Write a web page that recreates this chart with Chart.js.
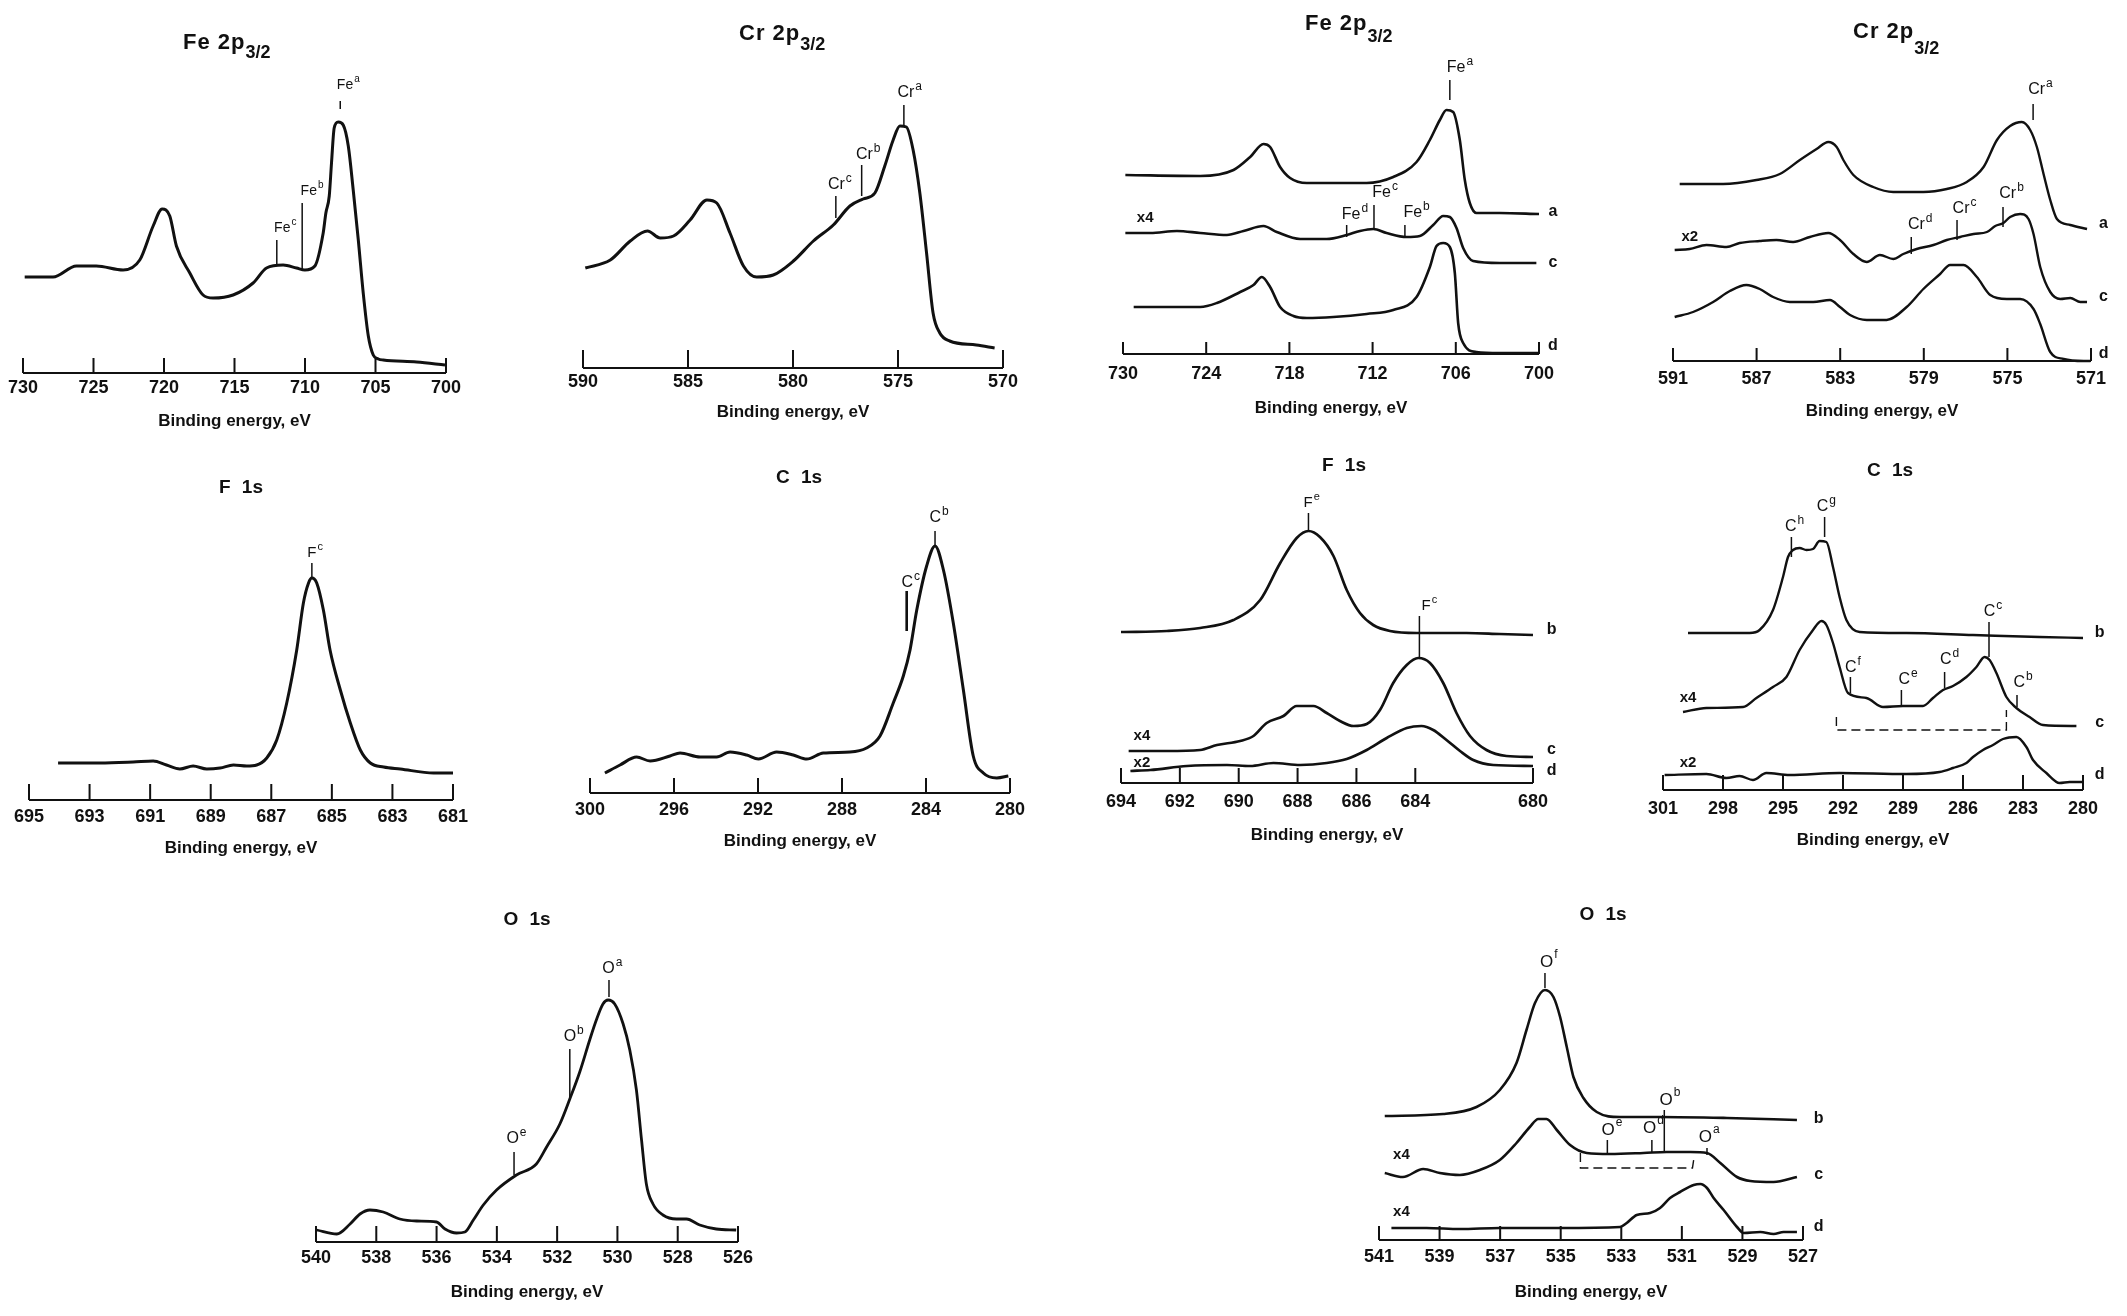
<!DOCTYPE html>
<html>
<head>
<meta charset="utf-8">
<title>XPS spectra</title>
<script src="https://cdn.jsdelivr.net/npm/chart.js@4.4.1/dist/chart.umd.min.js"></script>
<style>
  html, body { margin: 0; padding: 0; background: #fff; }
  body { width: 2127px; height: 1316px; position: relative; overflow: hidden; color: #111;
         font-family: "Liberation Sans", Arial, sans-serif; }
  .panel { position: absolute; }
  .panel canvas { display: block; }
  .ttl { position: absolute; font-weight: bold; line-height: 1; white-space: nowrap; }
  .ttl.big { font-size: 22px; letter-spacing: 1px; }
  .ttl.big sub { font-size: 18px; line-height: 1; letter-spacing: 0; }
  .ttl.small { font-size: 19px; word-spacing: 6px; transform: translateX(-50%); }
</style>
</head>
<body>
<script>
// ---- spectra (binding energy in eV, intensity in arb. units) ----

// Fe 2p3/2, single spectrum
const feSingleEnergy = [729.88, 727.87, 726.21, 724.80, 722.90, 721.72, 720.77, 720.13, 719.59, 719.12, 718.17, 717.23, 716.52, 715.10, 713.68, 712.73, 711.55, 710.60, 710.01, 709.30, 708.71, 708.52, 708.28, 708.12, 707.93, 707.64, 707.29, 706.93, 706.58, 706.22, 705.87, 705.51, 705.16, 704.80, 704.45, 702.08, 700.07];
const feSingleCounts = [96, 96, 107, 107, 103, 113, 147, 164, 157, 127, 100, 78, 75, 78, 90, 105, 108, 105, 103, 107, 140, 160, 177, 210, 245, 251, 248, 227, 183, 133, 80, 37, 18, 14, 13, 11, 8];

// Cr 2p3/2, single spectrum
const crSingleEnergy = [589.89, 588.70, 587.75, 586.93, 586.32, 585.69, 584.90, 584.10, 583.63, 583.00, 582.36, 581.73, 580.94, 579.98, 579.03, 578.08, 577.29, 576.66, 576.10, 575.63, 575.23, 574.91, 574.60, 574.28, 573.96, 573.64, 573.33, 573.01, 572.54, 571.27, 570.40];
const crSingleCounts = [100, 108, 127, 137, 130, 132, 148, 168, 165, 135, 102, 91, 93, 107, 127, 143, 162, 169, 175, 202, 228, 242, 241, 218, 175, 115, 55, 35, 27, 23, 20];

// Fe 2p3/2, samples a, c, d
const feEnergyA = [729.83, 724.43, 722.03, 720.83, 719.87, 719.39, 718.67, 717.95, 716.75, 714.83, 712.43, 710.51, 708.83, 707.87, 707.15, 706.67, 706.19, 705.71, 705.35, 704.99, 704.51, 702.83, 700.0];
const feCountsA = [179, 178, 184, 197, 210, 207, 187, 176, 171, 171, 171, 177, 192, 214, 234, 244, 242, 214, 174, 151, 141, 141, 140];
const feEnergyC = [729.83, 728.03, 726.11, 724.43, 722.51, 721.31, 719.87, 718.91, 717.23, 715.31, 713.87, 712.91, 711.95, 710.99, 709.55, 708.59, 707.63, 706.91, 706.43, 705.95, 705.47, 704.75, 702.83, 700.19];
const feCountsC = [121, 121, 123, 121, 119, 123, 128, 122, 115, 115, 119, 123, 125, 121, 117, 118, 129, 138, 137, 126, 106, 93, 91, 91];
const feEnergyD = [729.23, 724.43, 723.23, 721.55, 720.59, 719.99, 719.39, 718.67, 717.71, 716.75, 714.83, 712.43, 710.51, 708.83, 707.87, 707.39, 706.91, 706.43, 706.07, 705.83, 705.47, 704.51, 702.83, 700.07];
const feCountsD = [47, 47, 51, 62, 69, 77, 67, 47, 38, 36, 37, 40, 44, 57, 87, 108, 111, 107, 81, 31, 11, 2, 1, 1];

// Cr 2p3/2, samples a, c, d
const crEnergyA = [590.68, 588.60, 587.01, 585.89, 584.93, 584.13, 583.57, 583.17, 582.85, 582.37, 581.42, 580.46, 579.02, 577.90, 576.94, 576.14, 575.50, 574.87, 574.31, 573.91, 573.59, 573.27, 572.95, 572.63, 571.99, 571.19];
const crCountsA = [177, 177, 181, 187, 201, 212, 219, 214, 201, 186, 174, 169, 169, 172, 179, 194, 221, 235, 239, 231, 214, 187, 161, 142, 136, 132];
const crEnergyC = [590.92, 590.20, 589.40, 588.44, 587.81, 586.85, 586.05, 585.25, 584.45, 583.57, 583.01, 582.37, 581.73, 581.10, 580.46, 579.98, 579.34, 578.54, 577.90, 577.26, 576.62, 575.98, 575.58, 575.19, 574.87, 574.39, 573.99, 573.75, 573.43, 572.95, 572.47, 571.99, 571.51, 571.19];
const crCountsC = [111, 112, 116, 114, 118, 120, 121, 119, 124, 128, 121, 107, 99, 106, 102, 107, 112, 116, 121, 124, 127, 129, 135, 138, 144, 147, 142, 127, 94, 69, 62, 63, 59, 59];
const crEnergyD = [590.92, 590.04, 589.08, 588.28, 587.49, 586.85, 586.21, 585.41, 584.29, 583.49, 583.01, 582.53, 581.73, 580.78, 579.82, 579.02, 578.22, 577.74, 577.10, 576.46, 575.82, 575.03, 574.39, 573.75, 573.43, 572.95, 572.31, 571.35, 571.03];
const crCountsD = [44, 49, 59, 70, 76, 72, 64, 59, 59, 61, 54, 46, 41, 41, 54, 72, 87, 96, 96, 84, 66, 62, 62, 52, 37, 9, 2, 0, 0];

// F 1s, single spectrum
const fSingleEnergy = [694.04, 692.66, 691.56, 690.90, 690.46, 690.02, 689.58, 689.13, 688.69, 688.25, 687.81, 687.48, 687.15, 686.82, 686.49, 686.16, 685.94, 685.77, 685.66, 685.50, 685.28, 685.06, 684.72, 684.39, 684.06, 683.73, 683.29, 682.74, 681.64, 681.0];
const fSingleCounts = [37, 37, 38, 39, 35, 31, 34, 31, 32, 35, 34, 35, 42, 60, 97, 150, 197, 217, 222, 217, 190, 150, 110, 77, 50, 37, 33, 31, 27, 27];

// C 1s, single spectrum
const cSingleEnergy = [299.29, 298.57, 297.78, 297.14, 296.19, 295.71, 294.76, 293.97, 293.33, 292.54, 291.98, 291.11, 290.32, 289.68, 288.89, 287.62, 286.83, 286.19, 285.56, 285.08, 284.76, 284.44, 283.97, 283.57, 283.17, 282.70, 282.22, 281.75, 281.27, 280.63, 280.08];
const cSingleCounts = [20, 28, 36, 32, 37, 40, 36, 36, 41, 38, 34, 41, 38, 34, 40, 41, 45, 57, 90, 117, 143, 183, 227, 247, 223, 170, 103, 37, 20, 15, 17];

// F 1s, samples b, c, d
const fEnergyB = [694.0, 692.44, 691.31, 690.18, 689.27, 688.59, 688.03, 687.63, 687.24, 686.78, 686.33, 685.88, 685.43, 684.86, 683.95, 682.26, 681.13, 680.0];
const fCountsB = [151, 152, 155, 163, 183, 220, 245, 252, 246, 227, 193, 170, 158, 152, 150, 150, 149, 148];
const fEnergyC = [693.74, 692.44, 691.31, 690.74, 689.95, 689.50, 689.05, 688.48, 688.03, 687.46, 687.01, 686.56, 686.10, 685.65, 685.20, 684.75, 684.29, 683.90, 683.50, 683.05, 682.60, 682.14, 681.58, 680.90, 680.0];
const fCountsC = [32, 32, 33, 38, 42, 47, 60, 67, 77, 77, 70, 62, 57, 59, 73, 100, 118, 125, 120, 100, 70, 47, 33, 27, 26];
const fEnergyD = [693.68, 693.0, 691.76, 690.40, 689.61, 688.82, 687.91, 687.01, 686.33, 685.65, 684.97, 684.29, 683.79, 683.39, 682.94, 682.48, 682.03, 681.35, 680.0];
const fCountsD = [12, 13, 17, 18, 17, 20, 18, 20, 24, 33, 45, 55, 57, 53, 43, 32, 23, 18, 17];

// C 1s, samples b, c, d (+ background under c)
const cEnergyB = [299.75, 296.67, 296.17, 295.5, 295.0, 294.75, 294.5, 294.17, 293.83, 293.5, 293.17, 292.83, 292.5, 292.17, 291.83, 291.17, 288.83, 285.5, 282.17, 280.0];
const cCountsB = [157, 157, 160, 180, 213, 233, 240, 242, 240, 241, 249, 248, 223, 193, 170, 158, 157, 155, 153, 152];
const cEnergyC = [300.0, 298.83, 297.0, 296.33, 295.5, 294.83, 294.17, 293.5, 293.08, 292.83, 292.5, 292.17, 291.75, 290.83, 290.0, 289.0, 288.0, 287.5, 287.0, 286.5, 285.83, 285.33, 284.92, 284.67, 284.33, 283.83, 283.33, 282.67, 282.0, 280.33];
const cCountsC = [78, 82, 83, 92, 103, 113, 140, 160, 169, 165, 147, 123, 97, 92, 83, 84, 84, 92, 100, 104, 113, 123, 133, 130, 117, 93, 82, 73, 65, 64];
const cEnergyD = [300.92, 298.83, 297.83, 297.17, 296.5, 295.83, 294.67, 292.17, 288.83, 287.17, 286.5, 285.83, 285.5, 285.0, 284.5, 284.0, 283.33, 282.83, 282.5, 281.83, 281.17, 280.67, 280.0];
const cCountsD = [15, 16, 12, 14, 10, 17, 15, 17, 16, 18, 22, 27, 33, 40, 45, 51, 53, 43, 30, 17, 7, 8, 8];
const cBackgroundEnergy = [292.33, 292.33, 283.83, 283.83];
const cBackgroundCounts = [73, 60, 60, 80];

// O 1s, single spectrum
const oSingleEnergy = [539.98, 539.31, 538.87, 538.54, 538.21, 537.77, 537.22, 536.66, 536.0, 535.72, 535.34, 535.06, 534.78, 534.45, 534.01, 533.35, 532.69, 532.35, 531.91, 531.58, 531.25, 530.92, 530.70, 530.48, 530.31, 530.09, 529.81, 529.59, 529.37, 529.20, 529.04, 528.82, 528.49, 528.04, 527.71, 527.27, 526.72, 526.06];
const oSingleCounts = [12, 8, 18, 28, 32, 30, 23, 21, 20, 13, 9, 10, 22, 37, 52, 67, 78, 95, 118, 143, 170, 202, 222, 238, 242, 238, 218, 192, 152, 102, 58, 38, 27, 23, 23, 17, 13, 12];

// O 1s, samples b, c, d (+ background under c)
const oEnergyB = [540.81, 538.88, 537.78, 537.01, 536.46, 536.13, 535.85, 535.52, 535.24, 535.02, 534.80, 534.58, 534.25, 533.81, 533.04, 531.72, 529.51, 527.20];
const oCountsB = [124, 126, 133, 150, 177, 210, 237, 250, 243, 223, 193, 163, 142, 128, 123, 123, 122, 120];
const oEnergyC = [540.81, 540.21, 539.54, 538.99, 538.33, 537.67, 537.01, 536.46, 536.02, 535.74, 535.47, 535.13, 534.69, 534.14, 533.37, 532.27, 531.50, 530.72, 530.17, 529.73, 529.18, 528.74, 527.97, 527.20];
const oCountsC = [67, 63, 71, 67, 65, 70, 80, 97, 113, 121, 121, 110, 95, 87, 86, 87, 88, 88, 87, 77, 63, 59, 58, 63];
const oEnergyD = [540.59, 539.43, 538.33, 537.01, 535.02, 533.04, 532.82, 532.49, 532.05, 531.72, 531.39, 531.06, 530.61, 530.39, 530.17, 529.95, 529.62, 529.18, 528.96, 528.41, 527.97, 527.64, 527.20];
const oCountsD = [12, 12, 11, 12, 12, 13, 17, 25, 27, 32, 42, 48, 55, 56, 52, 42, 30, 13, 7, 8, 6, 8, 8];
const oBackgroundEnergy = [534.35, 534.35, 530.65, 530.6];
const oBackgroundCounts = [87, 72, 72, 82];

// tick labels of every energy axis
const feTicks = [730, 725, 720, 715, 710, 705, 700];
const crTicks = [590, 585, 580, 575, 570];
const feTicksMulti = [730, 724, 718, 712, 706, 700];
const crTicksMulti = [591, 587, 583, 579, 575, 571];
const fTicks = [695, 693, 691, 689, 687, 685, 683, 681];
const cTicks = [300, 296, 292, 288, 284, 280];
const fTicksMulti = [694, 692, 690, 688, 686, 684, 680];
const cTicksMulti = [301, 298, 295, 292, 289, 286, 283, 280];
const oTicks = [540, 538, 536, 534, 532, 530, 528, 526];
const oTicksMulti = [541, 539, 537, 535, 533, 531, 529, 527];

const FONT = '"Liberation Sans", Arial, sans-serif';
const INK = '#111';

function trace(energy, counts, width, dashed) {
    return {
        data: energy.map((e, i) => ({ x: e, y: counts[i] })),
        borderColor: INK,
        borderWidth: dashed ? 1.4 : width,
        borderDash: dashed ? [9, 5] : [],
        pointRadius: 0,
        tension: 0,
        cubicInterpolationMode: dashed ? 'default' : 'monotone',
        fill: false,
        clip: 8,
    };
}

// label like "Fe" with a superscript letter, centred on (cx, cy)
function supText(ctx, main, sup, cx, cy, size) {
    const supSize = Math.round(size * 0.72);
    ctx.font = `${size}px ${FONT}`;
    const w1 = ctx.measureText(main).width;
    ctx.font = `${supSize}px ${FONT}`;
    const w2 = ctx.measureText(sup).width;
    const x0 = cx - (w1 + w2 + 1) / 2;
    ctx.textAlign = 'left';
    ctx.textBaseline = 'middle';
    ctx.font = `${size}px ${FONT}`;
    ctx.fillText(main, x0, cy);
    ctx.font = `${supSize}px ${FONT}`;
    ctx.fillText(sup, x0 + w1 + 1, cy - size * 0.42);
}

// axis line with inward ticks, peak markers and trace names
function drawMarks(chart, p) {
    const { ctx, chartArea } = chart;
    const xs = chart.scales.x;
    const ys = chart.scales.y;
    const base = chartArea.bottom;
    ctx.save();
    ctx.strokeStyle = INK;
    ctx.fillStyle = INK;
    ctx.lineWidth = 2;
    ctx.beginPath();
    ctx.moveTo(xs.getPixelForValue(xs.max), base);
    ctx.lineTo(xs.getPixelForValue(xs.min), base);
    xs.ticks.forEach((t) => {
        const px = xs.getPixelForValue(t.value);
        ctx.moveTo(px, base);
        ctx.lineTo(px, base - p.tickLen);
    });
    ctx.stroke();

    (p.peaks || []).forEach((k) => {
        const px = xs.getPixelForValue(k.x);
        ctx.lineWidth = k.heavy ? 2.6 : 1.5;
        ctx.beginPath();
        ctx.moveTo(px, ys.getPixelForValue(k.t0));
        ctx.lineTo(px, ys.getPixelForValue(k.t1));
        ctx.stroke();
        supText(ctx, k.n, k.s, xs.getPixelForValue(k.tx), ys.getPixelForValue(k.ty), p.labelSize);
    });

    (p.notes || []).forEach((n) => {
        ctx.font = `bold ${n.size || 16}px ${FONT}`;
        ctx.textAlign = 'center';
        ctx.textBaseline = 'middle';
        ctx.fillText(n.t, xs.getPixelForValue(n.x), ys.getPixelForValue(n.y));
    });
    ctx.restore();
}

function makePanel(p) {
    const wrap = document.createElement('div');
    wrap.className = 'panel';
    const canvas = document.createElement('canvas');
    canvas.width = Math.round(p.right - p.left) + 80;
    canvas.height = 400;
    wrap.appendChild(canvas);
    document.body.appendChild(wrap);

    const chart = new Chart(canvas, {
        type: 'line',
        data: { datasets: p.traces },
        options: {
            responsive: false,
            maintainAspectRatio: false,
            animation: false,
            devicePixelRatio: 1,
            layout: { padding: { left: 40, right: 40, top: 20, bottom: 0 } },
            plugins: { legend: { display: false }, tooltip: { enabled: false } },
            scales: {
                x: {
                    type: 'linear',
                    reverse: true,
                    min: Math.min(...p.ticks),
                    max: Math.max(...p.ticks),
                    afterBuildTicks: (scale) => { scale.ticks = p.ticks.map((v) => ({ value: v })); },
                    grid: { display: false, drawTicks: false },
                    border: { display: false },
                    ticks: {
                        autoSkip: false, maxRotation: 0, padding: p.tickPad - 1, color: INK,
                        font: { family: FONT, size: 18, weight: 'bold' },
                    },
                    title: {
                        display: true, text: 'Binding energy, eV', color: INK,
                        font: { family: FONT, size: 17, weight: 'bold' },
                        padding: { top: p.titlePad, bottom: 0 },
                    },
                },
                y: { display: false, min: 0, max: 300 },
            },
        },
        plugins: [{ id: 'xpsMarks', afterDraw: (c) => drawMarks(c, p) }],
    });

    // one intensity unit = one pixel above the axis line
    chart.options.scales.y.max = chart.chartArea.bottom - chart.chartArea.top;
    chart.update('none');
    wrap.style.left = Math.round(p.left - chart.chartArea.left) + 'px';
    wrap.style.top = Math.round(p.base - chart.chartArea.bottom) + 'px';

    const t = document.createElement('div');
    t.className = 'ttl ' + p.title.cls;
    t.innerHTML = p.title.html;
    t.style.left = p.title.x + 'px';
    t.style.top = p.title.y + 'px';
    document.body.appendChild(t);
}

const panels = [
    {
        left: 23, right: 446, base: 373, tickLen: 15, tickPad: 5, titlePad: 9, labelSize: 14,
        ticks: feTicks,
        traces: [trace(feSingleEnergy, feSingleCounts, 3)],
        title: { cls: 'big', html: 'Fe 2p<sub style="vertical-align:-9px">3/2</sub>', x: 183, y: 31 },
        peaks: [
            { n: 'Fe', s: 'a', x: 707.5, t0: 264, t1: 272, tx: 706.93, ty: 288 },
            { n: 'Fe', s: 'b', x: 710.2, t0: 103, t1: 170, tx: 709.5, ty: 182 },
            { n: 'Fe', s: 'c', x: 712.0, t0: 109, t1: 133, tx: 711.4, ty: 145 },
        ],
    },
    {
        left: 583, right: 1003, base: 368, tickLen: 18, tickPad: 4, titlePad: 7, labelSize: 16,
        ticks: crTicks,
        traces: [trace(crSingleEnergy, crSingleCounts, 3)],
        title: { cls: 'big', html: 'Cr 2p<sub style="vertical-align:-10px">3/2</sub>', x: 739, y: 22 },
        peaks: [
            { n: 'Cr', s: 'a', x: 574.72, t0: 243, t1: 263, tx: 574.44, ty: 275 },
            { n: 'Cr', s: 'b', x: 576.73, t0: 172, t1: 203, tx: 576.42, ty: 213 },
            { n: 'Cr', s: 'c', x: 577.96, t0: 150, t1: 172, tx: 577.77, ty: 183 },
        ],
    },
    {
        left: 1123, right: 1539, base: 354, tickLen: 12, tickPad: 10, titlePad: 5, labelSize: 16,
        ticks: feTicksMulti,
        traces: [trace(feEnergyA, feCountsA, 2.6), trace(feEnergyC, feCountsC, 2.6), trace(feEnergyD, feCountsD, 2.6)],
        title: { cls: 'big', html: 'Fe 2p<sub style="vertical-align:-12px">3/2</sub>', x: 1305, y: 12 },
        peaks: [
            { n: 'Fe', s: 'a', x: 706.43, t0: 254, t1: 274, tx: 705.7, ty: 286 },
            { n: 'Fe', s: 'd', x: 713.87, t0: 117, t1: 129, tx: 713.27, ty: 139 },
            { n: 'Fe', s: 'c', x: 711.9, t0: 124, t1: 149, tx: 711.1, ty: 161 },
            { n: 'Fe', s: 'b', x: 709.67, t0: 117, t1: 129, tx: 708.83, ty: 141 },
        ],
        notes: [
            { t: 'a', x: 699.0, y: 142 }, { t: 'c', x: 699.0, y: 91 }, { t: 'd', x: 699.0, y: 8 },
            { t: 'x4', x: 728.4, y: 136, size: 15 },
        ],
    },
    {
        left: 1673, right: 2091, base: 361, tickLen: 13, tickPad: 8, titlePad: 5, labelSize: 16,
        ticks: crTicksMulti,
        traces: [trace(crEnergyA, crCountsA, 2.4), trace(crEnergyC, crCountsC, 2.4), trace(crEnergyD, crCountsD, 2.4)],
        title: { cls: 'big', html: 'Cr 2p<sub style="vertical-align:-16px">3/2</sub>', x: 1853, y: 20 },
        peaks: [
            { n: 'Cr', s: 'a', x: 573.77, t0: 241, t1: 257, tx: 573.42, ty: 271 },
            { n: 'Cr', s: 'b', x: 575.21, t0: 134, t1: 154, tx: 574.8, ty: 167 },
            { n: 'Cr', s: 'c', x: 577.41, t0: 121, t1: 141, tx: 577.05, ty: 152 },
            { n: 'Cr', s: 'd', x: 579.6, t0: 107, t1: 124, tx: 579.17, ty: 136 },
        ],
        notes: [
            { t: 'a', x: 570.4, y: 137 }, { t: 'c', x: 570.4, y: 64 }, { t: 'd', x: 570.4, y: 7 },
            { t: 'x2', x: 590.2, y: 124, size: 15 },
        ],
    },
    {
        left: 29, right: 453, base: 800, tickLen: 16, tickPad: 7, titlePad: 5, labelSize: 15,
        ticks: fTicks,
        traces: [trace(fSingleEnergy, fSingleCounts, 3)],
        title: { cls: 'small', html: 'F 1s', x: 241, y: 477 },
        peaks: [{ n: 'F', s: 'c', x: 685.66, t0: 223, t1: 237, tx: 685.55, ty: 247 }],
    },
    {
        left: 590, right: 1010, base: 793, tickLen: 15, tickPad: 7, titlePad: 5, labelSize: 16,
        ticks: cTicks,
        traces: [trace(cSingleEnergy, cSingleCounts, 3)],
        title: { cls: 'small', html: 'C 1s', x: 799, y: 467 },
        peaks: [
            { n: 'C', s: 'b', x: 283.57, t0: 247, t1: 262, tx: 283.38, ty: 275 },
            { n: 'C', s: 'c', x: 284.92, t0: 162, t1: 202, tx: 284.73, ty: 210, heavy: true },
        ],
    },
    {
        left: 1121, right: 1533, base: 783, tickLen: 15, tickPad: 9, titlePad: 5, labelSize: 15,
        ticks: fTicksMulti,
        traces: [trace(fEnergyB, fCountsB, 2.7), trace(fEnergyC, fCountsC, 2.7), trace(fEnergyD, fCountsD, 2.7)],
        title: { cls: 'small', html: 'F 1s', x: 1344, y: 455 },
        peaks: [
            { n: 'F', s: 'e', x: 687.63, t0: 252, t1: 270, tx: 687.52, ty: 280 },
            { n: 'F', s: 'c', x: 683.86, t0: 125, t1: 167, tx: 683.52, ty: 177 },
        ],
        notes: [
            { t: 'b', x: 679.37, y: 153 }, { t: 'c', x: 679.37, y: 33 }, { t: 'd', x: 679.37, y: 12 },
            { t: 'x4', x: 693.29, y: 47, size: 15 }, { t: 'x2', x: 693.29, y: 20, size: 15 },
        ],
    },
    {
        left: 1663, right: 2083, base: 790, tickLen: 15, tickPad: 9, titlePad: 3, labelSize: 16,
        ticks: cTicksMulti,
        traces: [trace(cEnergyB, cCountsB, 2.4), trace(cEnergyC, cCountsC, 2.4), trace(cEnergyD, cCountsD, 2.4),
                 trace(cBackgroundEnergy, cBackgroundCounts, 1.4, true)],
        title: { cls: 'small', html: 'C 1s', x: 1890, y: 460 },
        peaks: [
            { n: 'C', s: 'h', x: 294.58, t0: 233, t1: 253, tx: 294.42, ty: 263 },
            { n: 'C', s: 'g', x: 292.92, t0: 253, t1: 273, tx: 292.83, ty: 283 },
            { n: 'C', s: 'c', x: 284.7, t0: 133, t1: 168, tx: 284.5, ty: 178 },
            { n: 'C', s: 'd', x: 286.92, t0: 102, t1: 118, tx: 286.67, ty: 130 },
            { n: 'C', s: 'e', x: 289.08, t0: 83, t1: 100, tx: 288.75, ty: 110 },
            { n: 'C', s: 'f', x: 291.63, t0: 97, t1: 113, tx: 291.5, ty: 122 },
            { n: 'C', s: 'b', x: 283.3, t0: 83, t1: 95, tx: 283.0, ty: 107 },
        ],
        notes: [
            { t: 'b', x: 279.17, y: 157 }, { t: 'c', x: 279.17, y: 67 }, { t: 'd', x: 279.17, y: 15 },
            { t: 'x4', x: 299.75, y: 92, size: 15 }, { t: 'x2', x: 299.75, y: 27, size: 15 },
        ],
    },
    {
        left: 316, right: 738, base: 1242, tickLen: 16, tickPad: 6, titlePad: 9, labelSize: 16,
        ticks: oTicks,
        traces: [trace(oSingleEnergy, oSingleCounts, 2.8)],
        title: { cls: 'small', html: 'O 1s', x: 527, y: 909 },
        peaks: [
            { n: 'O', s: 'a', x: 530.28, t0: 245, t1: 262, tx: 530.17, ty: 273 },
            { n: 'O', s: 'b', x: 531.58, t0: 145, t1: 193, tx: 531.45, ty: 205 },
            { n: 'O', s: 'e', x: 533.43, t0: 67, t1: 90, tx: 533.35, ty: 103 },
        ],
    },
    {
        left: 1379, right: 1803, base: 1240, tickLen: 14, tickPad: 7, titlePad: 9, labelSize: 17,
        ticks: oTicksMulti,
        traces: [trace(oEnergyB, oCountsB, 2.6), trace(oEnergyC, oCountsC, 2.6), trace(oEnergyD, oCountsD, 2.6),
                 trace(oBackgroundEnergy, oBackgroundCounts, 1.4, true)],
        title: { cls: 'small', html: 'O 1s', x: 1603, y: 904 },
        peaks: [
            { n: 'O', s: 'f', x: 535.52, t0: 252, t1: 267, tx: 535.39, ty: 278 },
            { n: 'O', s: 'b', x: 531.58, t0: 88, t1: 130, tx: 531.39, ty: 140 },
            { n: 'O', s: 'd', x: 531.99, t0: 87, t1: 100, tx: 531.94, ty: 112 },
            { n: 'O', s: 'e', x: 533.46, t0: 85, t1: 100, tx: 533.31, ty: 110 },
            { n: 'O', s: 'a', x: 530.17, t0: 85, t1: 92, tx: 530.1, ty: 103 },
        ],
        notes: [
            { t: 'b', x: 526.48, y: 121 }, { t: 'c', x: 526.48, y: 65 }, { t: 'd', x: 526.48, y: 13 },
            { t: 'x4', x: 540.26, y: 85, size: 15 }, { t: 'x4', x: 540.26, y: 28, size: 15 },
        ],
    },
];

panels.forEach(makePanel);
</script>
</body>
</html>
